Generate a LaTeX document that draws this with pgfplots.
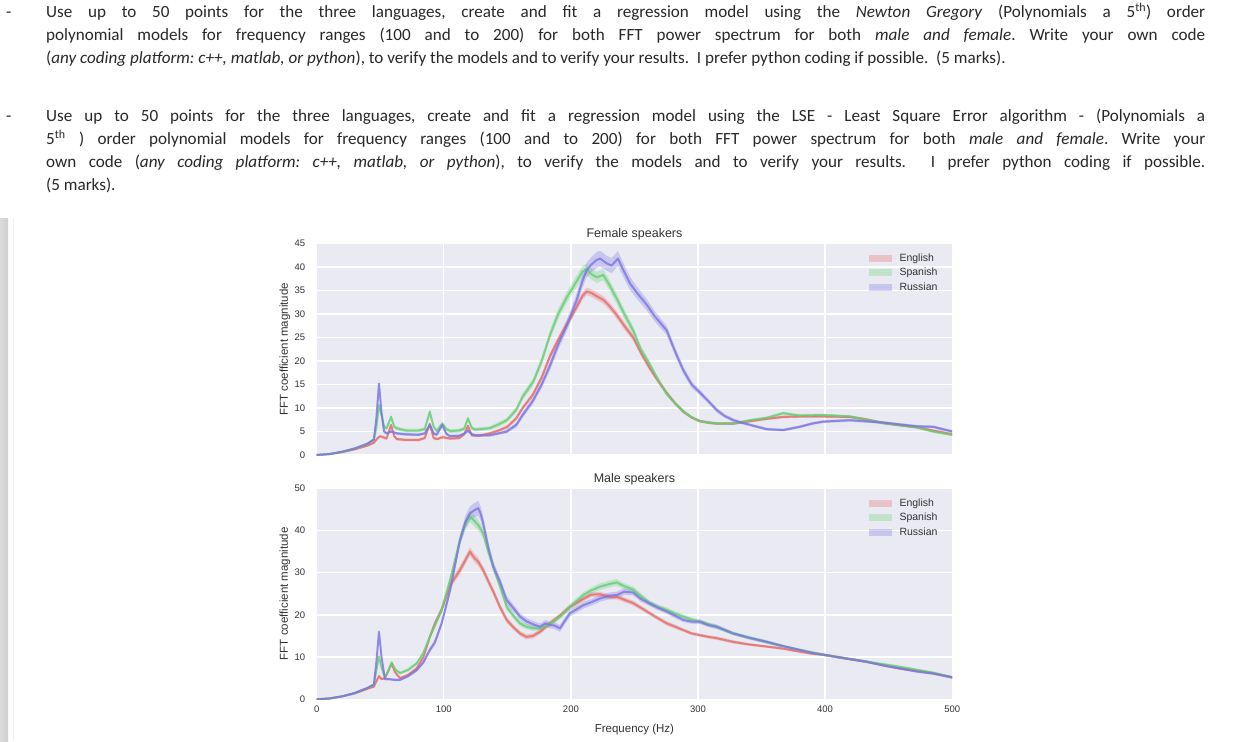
\documentclass[border=0pt]{standalone}
\usepackage{fontspec}
\setmainfont{Liberation Sans}
\newfontfamily\carlito{Carlito}
\usepackage{pgfplots}
\usepackage{pgfplotstable}
\pgfplotsset{compat=1.18}
\usepgfplotslibrary{fillbetween}

\definecolor{bgc}{RGB}{234,234,242}
\definecolor{lab}{RGB}{50,50,50}
\definecolor{txt}{RGB}{40,40,40}
\definecolor{eng}{RGB}{228,108,104}
\definecolor{spa}{RGB}{100,208,116}
\definecolor{rus}{RGB}{122,116,228}

% female speakers: x, mean, half-width of band
\pgfplotstableread{
x y e
0 0 0.1
10 0.2 0.1
20 0.6 0.1
30 1.2 0.15
40 2.0 0.2
45 2.6 0.2
48 3.6 0.3
50 4.0 0.3
52 3.8 0.3
55 3.5 0.3
58.5 6.4 0.4
61 4.0 0.3
63 3.4 0.3
70 3.2 0.3
80 3.2 0.3
85 3.6 0.3
89 6.6 0.4
92 3.6 0.3
95 3.4 0.3
99 3.8 0.3
105 3.5 0.3
112 3.6 0.3
116 4.4 0.3
119 6.2 0.4
122 4.2 0.3
128 4.1 0.3
136 4.6 0.3
143 5.2 0.3
150 6.0 0.4
157 7.8 0.4
162 10.0 0.5
170 12.8 0.5
177 16.5 0.6
183.5 21.0 0.7
190 24.5 0.7
196.7 27.8 0.8
204.6 31.5 0.8
209 33.8 0.8
212.4 34.8 0.8
216 34.5 0.8
220.3 33.8 0.8
225.5 33.0 0.8
230 31.8 0.8
236 29.8 0.8
242 27.5 0.8
249 25.0 0.7
255 21.8 0.7
262 18.5 0.6
268 16.0 0.5
275.4 13.2 0.5
282 11.0 0.4
288.5 9.2 0.4
295 8.0 0.3
301.5 7.2 0.3
308 6.9 0.3
314.6 6.7 0.3
327.8 6.7 0.3
341 7.2 0.3
354 7.7 0.3
367 8.1 0.3
380 8.2 0.3
398.6 8.2 0.3
419.6 8.1 0.3
432 7.6 0.3
445.8 6.8 0.3
460 6.3 0.3
472 5.9 0.3
485 5.2 0.3
500 4.4 0.3
}\femeng

\pgfplotstableread{
x y e
0 0 0.1
10 0.2 0.1
20 0.7 0.1
30 1.4 0.15
40 2.4 0.2
45 3.3 0.3
47 6.0 0.5
49 10.6 0.6
51 8.5 0.5
53 6.0 0.4
55 5.7 0.4
58.5 8.1 0.5
61 6.0 0.4
63 5.7 0.4
70 5.2 0.4
80 5.2 0.4
85 5.5 0.4
89 9.2 0.5
92 6.0 0.4
94.4 5.1 0.4
98.8 6.7 0.4
102 5.5 0.4
105 5.1 0.4
112 5.2 0.4
116 5.6 0.4
119 7.8 0.5
122 5.8 0.4
124.5 5.4 0.4
136 5.7 0.4
143 6.5 0.5
149.5 7.4 0.5
157 9.6 0.6
162 12.4 0.7
170.4 15.6 0.8
177 20.0 0.9
183.5 25.5 1.0
190 30.0 1.1
196.7 33.5 1.2
204.6 37.0 1.2
209 39.0 1.2
212.4 39.5 1.2
216 38.5 1.2
220.3 37.8 1.2
225.5 38.3 1.2
230 36.3 1.1
236 33.3 1.1
242 30.0 1.0
249 26.5 0.9
255 22.5 0.8
262 19.3 0.7
268 16.3 0.6
275.4 13.0 0.5
282 11.0 0.4
288.5 9.3 0.4
295 8.0 0.3
301.5 7.2 0.3
308 6.9 0.3
314.6 6.7 0.3
327.8 6.7 0.3
341 7.4 0.3
354 7.9 0.3
367 8.9 0.3
380 8.4 0.3
398.6 8.5 0.3
419.6 8.2 0.3
432 7.5 0.3
445.8 6.8 0.3
460 6.3 0.3
472 5.9 0.3
485 5.0 0.3
500 4.3 0.3
}\femspa

\pgfplotstableread{
x y e
0 0 0.1
10 0.2 0.1
20 0.7 0.1
30 1.4 0.15
40 2.4 0.2
45 3.3 0.3
47 8.0 0.5
49 15.2 0.6
51 9.0 0.5
53 5.0 0.3
55 4.6 0.3
58.5 5.0 0.3
63 4.6 0.3
70 4.4 0.3
80 4.3 0.3
85 4.6 0.3
89 6.4 0.4
92 4.6 0.3
94.4 4.3 0.3
98.8 6.4 0.4
102 4.5 0.3
105 4.0 0.3
112 4.1 0.3
116 4.5 0.3
119 5.2 0.3
122 4.4 0.3
124.5 4.2 0.3
136 4.2 0.3
143 4.6 0.3
149.5 5.0 0.4
157 6.4 0.5
162 8.5 0.6
170 11.5 0.7
177 15.0 0.8
183.5 19.0 1.0
190 23.5 1.1
196.7 27.5 1.2
204.6 33.0 1.4
209 37.0 1.5
212.4 39.3 1.6
216 40.5 1.6
220.3 41.5 1.7
223 41.8 1.7
228 40.8 1.6
232 40.3 1.6
237 41.8 1.6
241 39.5 1.5
246.5 36.5 1.4
252 34.5 1.3
259.6 32.0 1.2
266 29.5 1.1
275.4 26.5 1.0
282 22.0 0.9
288.5 18.0 0.8
295 15.0 0.7
301.5 13.3 0.6
308 11.5 0.5
314.6 9.6 0.5
321 8.3 0.4
327.8 7.4 0.4
334 6.9 0.3
341 6.4 0.3
354 5.5 0.3
367 5.3 0.3
380 6.0 0.3
390 6.7 0.3
398.6 7.1 0.3
419.6 7.4 0.3
445.8 6.9 0.3
472 6.1 0.3
485 6.0 0.3
500 5.0 0.3
}\femrus

% male speakers
\pgfplotstableread{
x y e
0 0 0.1
10 0.2 0.1
20 0.7 0.1
30 1.4 0.15
40 2.5 0.2
45 3.0 0.2
47 4.3 0.3
49 5.5 0.3
51 4.8 0.3
53.7 5.0 0.3
56 6.5 0.3
59 8.5 0.4
61.5 6.5 0.3
65.5 5.0 0.3
72 5.8 0.3
78.6 7.3 0.4
84 10.0 0.5
89 14.8 0.6
93 18.0 0.7
98.3 21.2 0.8
105 27.1 0.9
112.7 30.6 1.0
117 33.0 1.0
120.6 35.0 1.0
124 33.5 1.0
127.1 32.6 1.0
131 30.6 0.9
135 28.0 0.9
139 25.5 0.8
144 22.0 0.8
149.5 18.8 0.7
155 17.0 0.6
160 15.6 0.6
165 14.8 0.6
170 15.0 0.6
175.7 16.0 0.6
183.5 18.0 0.6
191.4 19.8 0.6
199.3 21.9 0.6
209.8 23.8 0.6
216 24.8 0.6
222.9 24.9 0.6
230 24.3 0.6
236 24.3 0.6
242 23.6 0.6
249 22.8 0.6
255 21.7 0.5
262 20.4 0.5
268 19.3 0.5
275.4 18.0 0.5
282 17.2 0.5
288.5 16.4 0.4
295 15.6 0.4
301.5 15.2 0.4
308 14.8 0.4
314.6 14.5 0.4
327.8 13.6 0.4
340 13.0 0.3
354 12.5 0.3
367 12.0 0.3
380 11.3 0.3
390 10.8 0.3
400 10.5 0.3
416 9.7 0.3
432.7 8.9 0.3
446 8.1 0.3
459 7.3 0.3
472 6.8 0.3
485 6.2 0.3
500 5.2 0.3
}\maleng

\pgfplotstableread{
x y e
0 0 0.1
10 0.2 0.1
20 0.7 0.1
30 1.5 0.15
40 2.7 0.2
45 3.5 0.3
47 7.0 0.4
49 10.1 0.5
51 7.5 0.4
53.7 5.2 0.3
56 6.5 0.3
59 8.7 0.4
61.5 7.2 0.4
65.5 6.2 0.3
72 7.0 0.4
78.6 8.5 0.4
84 11.0 0.5
89 14.8 0.6
93 17.5 0.7
98.3 21.2 0.8
105 28.3 1.0
112.7 37.7 1.2
117 41.5 1.3
120.6 43.3 1.3
124 42.3 1.3
127.1 41.3 1.3
131 39.3 1.2
135 35.0 1.1
139 31.4 1.0
144 27.0 0.9
149.5 21.9 0.8
155 19.7 0.7
160 18.0 0.7
165 17.2 0.6
170 16.8 0.6
175.7 16.8 0.6
183.5 17.8 0.6
191.4 19.6 0.6
199.3 21.9 0.7
209.8 24.7 0.7
216 25.8 0.7
222.9 26.7 0.8
230 27.3 0.8
236 27.7 0.8
242 26.8 0.7
249 26.0 0.7
255 24.5 0.7
262 22.8 0.6
268 21.9 0.6
275.4 21.2 0.6
282 20.3 0.6
288.5 19.6 0.5
295 18.9 0.5
301.5 18.4 0.5
308 17.8 0.5
314.6 17.2 0.5
327.8 15.6 0.4
340 14.6 0.4
354 13.6 0.4
367 12.6 0.3
380 11.7 0.3
390 11.1 0.3
400 10.5 0.3
416 9.7 0.3
432.7 8.9 0.3
446 8.3 0.3
459 7.7 0.3
472 7.0 0.3
485 6.3 0.3
500 5.2 0.3
}\malspa

\pgfplotstableread{
x y e
0 0 0.1
10 0.2 0.1
20 0.7 0.1
30 1.5 0.15
40 2.7 0.2
45 3.5 0.3
47 9.0 0.5
49 16.0 0.6
51 10.0 0.5
53.7 4.8 0.3
56 4.8 0.3
59 4.7 0.3
61.5 4.6 0.3
65.5 4.6 0.3
72 5.5 0.3
78.6 6.9 0.4
84 8.8 0.5
89 11.7 0.6
93 13.5 0.7
98.3 18.0 0.8
105 25.9 1.0
112.7 37.7 1.3
117 42.0 1.5
120.6 44.1 1.6
124 44.8 1.7
127.1 45.3 1.8
129 44.0 1.7
131 41.7 1.6
135 36.0 1.4
139 31.4 1.2
144 28.0 1.1
149.5 23.5 1.0
155 21.5 0.9
160 19.6 0.8
165 18.5 0.8
170 17.8 0.8
175.7 17.2 0.8
180 18.0 0.8
183.5 17.6 0.8
187 17.5 0.8
191.4 16.8 0.8
195 18.5 0.8
199.3 20.4 0.8
209.8 22.3 0.8
216 23.0 0.8
222.9 23.9 0.8
230 24.5 0.8
236 24.7 0.8
242 25.5 0.8
249 25.3 0.7
255 23.8 0.7
262 22.7 0.6
268 21.8 0.6
275.4 20.8 0.6
282 19.8 0.6
288.5 18.8 0.5
295 18.4 0.5
301.5 18.4 0.5
308 17.6 0.5
314.6 17.2 0.5
327.8 15.6 0.4
340 14.6 0.4
354 13.6 0.4
367 12.6 0.3
380 11.7 0.3
390 11.0 0.3
400 10.5 0.3
416 9.7 0.3
432.7 8.9 0.3
446 8.0 0.3
459 7.3 0.3
472 6.6 0.3
485 6.1 0.3
500 5.2 0.3
}\malrus

\pgfplotsset{
  snsaxis/.style={
    scale only axis, width=635.5bp, height=211.5bp,
    xmin=0, xmax=500,
    axis background/.style={fill=bgc},
    axis line style={draw=none},
    grid=major, major grid style={white, line width=1.3bp},
    major tick length=0pt, tick style={draw=none},
    xtick={0,100,...,500},
    /pgf/number format/assume math mode=true,
    ticklabel style={font=\fontsize{9.5bp}{11bp}\selectfont, text=lab},
    yticklabel style={xshift=-8bp},
    xticklabel style={yshift=-3bp},
    label style={font=\fontsize{11.5bp}{13bp}\selectfont, text=lab},
    ylabel style={at={(axis description cs:-0.05,0.5)}, anchor=center},
    xlabel style={at={(axis description cs:0.5,-0.145)}, anchor=center},
    title style={font=\fontsize{12.5bp}{14bp}\selectfont, text=lab,
      at={(axis description cs:0.5,1)}, anchor=center, yshift=3bp},
    legend cell align=left,
    legend image code/.code={\fill (0bp,-3.5bp) rectangle (23bp,3.5bp);
      \path (0bp,0bp) -- (31bp,0bp);},
    legend style={draw=none, fill=none, font=\fontsize{10.5bp}{12bp}\selectfont,
      text=lab, at={(0.868,0.955)}, anchor=north west,
      inner sep=0pt, row sep=4bp,
      nodes={inner sep=0pt, text height=8bp, text depth=2.5bp}},
  },
  bandsty/.style={fill=#1, fill opacity=0.3, draw=none, forget plot},
  meansty/.style={draw=#1, draw opacity=0.8, line width=2bp, line join=round, forget plot},
}

\newcommand{\plotband}[3]{%
  \addplot[name path=#2u, draw=none, forget plot] table[x=x, y expr=\thisrow{y}+\thisrow{e}] {#1};
  \addplot[name path=#2l, draw=none, forget plot] table[x=x, y expr=\thisrow{y}-\thisrow{e}] {#1};
  \addplot[bandsty=#3] fill between[of=#2u and #2l];
  \addplot[meansty=#3] table[x=x, y=y] {#1};
}

\begin{document}
\frenchspacing
\begin{tikzpicture}
\path (0,0) rectangle (1242bp,-741bp);
\shade[left color=black!14, right color=black!19] (0,-218bp) rectangle (8bp,-741bp);
\draw[black!5, line width=1bp] (13bp,-218bp) -- (13bp,-741bp);

\begin{scope}[every node/.style={anchor=base west, inner sep=0pt, text=txt,
    font=\carlito\fontsize{17.1bp}{23bp}\selectfont}]
\node at (6bp,-17.5bp) {-};
\node at (46bp,-17.5bp) {\makebox[1159bp][s]{Use up to 50 points for the three languages, create and fit a regression model using the \textit{Newton Gregory} (Polynomials a 5\textsuperscript{th}) order}};
\node at (46bp,-40.5bp) {\makebox[1159bp][s]{polynomial models for frequency ranges (100 and to 200) for both FFT power spectrum for both \textit{male and female}. Write your own code}};
\node at (46bp,-63.5bp) {(\textit{any coding platform: c++, matlab, or python}), to verify the models and to verify your results.\ \ I prefer python coding if possible.\ \ (5 marks).};
\node at (6bp,-121.5bp) {-};
\node at (46bp,-121.5bp) {\makebox[1159bp][s]{Use up to 50 points for the three languages, create and fit a regression model using the LSE - Least Square Error algorithm - (Polynomials a}};
\node at (46bp,-144.5bp) {\makebox[1159bp][s]{5\textsuperscript{th} ) order polynomial models for frequency ranges (100 and to 200) for both FFT power spectrum for both \textit{male and female}. Write your}};
\node at (46bp,-167.5bp) {\makebox[1159bp][s]{own code (\textit{any coding platform: c++, matlab, or python}), to verify the models and to verify your results.\ \ I prefer python coding if possible.}};
\node at (46bp,-190.5bp) {(5 marks).};
\end{scope}

\begin{axis}[snsaxis, at={(316.7bp,-455bp)}, anchor=south west,
    ymin=0, ymax=45, ytick={0,5,...,45}, xticklabels={},
    title={Female speakers}, ylabel={FFT coefficient magnitude}]
  \plotband{\femeng}{fe}{eng}
  \plotband{\femspa}{fs}{spa}
  \plotband{\femrus}{fr}{rus}
  \addlegendimage{fill=eng, fill opacity=0.3, draw=none}
  \addlegendentry{English}
  \addlegendimage{fill=spa, fill opacity=0.3, draw=none}
  \addlegendentry{Spanish}
  \addlegendimage{fill=rus, fill opacity=0.3, draw=none}
  \addlegendentry{Russian}
\end{axis}

\begin{axis}[snsaxis, at={(316.7bp,-699.3bp)}, anchor=south west, height=211bp,
    ymin=0, ymax=50, ytick={0,10,...,50},
    title={Male speakers}, ylabel={FFT coefficient magnitude},
    xlabel={Frequency (Hz)}]
  \plotband{\maleng}{me}{eng}
  \plotband{\malspa}{ms}{spa}
  \plotband{\malrus}{mr}{rus}
  \addlegendimage{fill=eng, fill opacity=0.3, draw=none}
  \addlegendentry{English}
  \addlegendimage{fill=spa, fill opacity=0.3, draw=none}
  \addlegendentry{Spanish}
  \addlegendimage{fill=rus, fill opacity=0.3, draw=none}
  \addlegendentry{Russian}
\end{axis}
\end{tikzpicture}
\end{document}
